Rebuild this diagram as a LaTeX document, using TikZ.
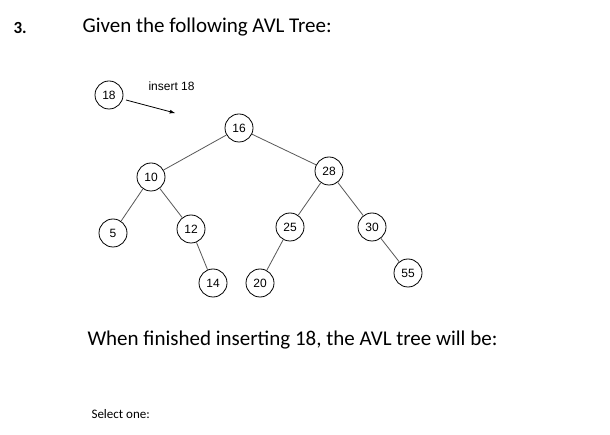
\documentclass[tikz,border=0pt]{standalone}
\usepackage{fontspec}
\setmainfont{Carlito}
\newfontfamily\arialf{Liberation Sans}
\begin{document}
\begin{tikzpicture}[x=1pt,y=-1pt,
  tn/.style={circle,draw,thick,minimum size=28pt,inner sep=0pt,font=\arialf\fontsize{12}{13}\selectfont},
  ed/.style={draw,gray!70!black,thick}]
\path[use as bounding box,fill=white] (0,0) rectangle (610,435);
\node[anchor=west,font=\bfseries\fontsize{17}{19}\selectfont] (num) at (10,28) {3.};
\node[anchor=west,font=\fontsize{21}{24}\selectfont] (title) at (79,27) {Given the following AVL Tree:};
\node[tn] (n18) at (109,95) {18};
\node[anchor=west,font=\arialf\fontsize{12}{13}\selectfont] (ins) at (145,86) {insert 18};
\coordinate (arr) at (175,113);
\draw[thick,-latex] (126,100) -- (arr);
\node[tn] (a) at (239,128) {16};
\node[tn] (b) at (151,177) {10};
\node[tn] (c) at (329,171) {28};
\node[tn] (d) at (113,233) {5};
\node[tn] (e) at (191,229) {12};
\node[tn] (f) at (290,227) {25};
\node[tn] (g) at (372,227) {30};
\node[tn] (h) at (213,283) {14};
\node[tn] (i) at (260,283) {20};
\node[tn] (j) at (408,273) {55};
\foreach \u/\v in {a/b,a/c,b/d,b/e,e/h,c/f,c/g,f/i,g/j} \draw[ed] (\u) -- (\v);
\node[anchor=west,font=\fontsize{21}{24}\selectfont] (when) at (84,340) {When finished inserting 18, the AVL tree will be:};
\node[anchor=west,font=\fontsize{13}{15}\selectfont] (sel) at (88,414) {Select one:};
\end{tikzpicture}
\end{document}
